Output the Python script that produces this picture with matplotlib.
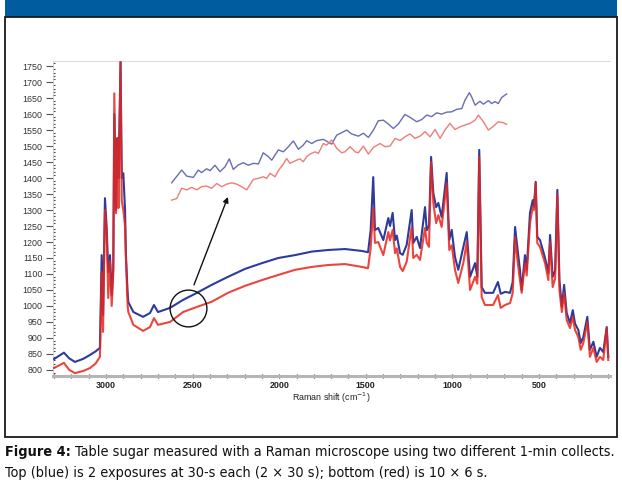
import os
import matplotlib
matplotlib.use('Agg')
import matplotlib.pyplot as plt
from matplotlib import font_manager as fm
from matplotlib.patches import Rectangle

# ---------------- data ----------------
wavenumber = [3300, 3243, 3212, 3179, 3130, 3092, 3060, 3035, 3025, 3017, 3006, 2996, 2987, 2977, 2967,
              2958, 2952, 2942, 2934, 2928, 2916, 2909, 2900, 2890, 2885, 2875, 2871, 2842, 2786, 2746,
              2723, 2700, 2630, 2555, 2475, 2390, 2296, 2197, 2099, 2005, 1909, 1812, 1718, 1620, 1522,
              1487, 1472, 1457, 1447, 1428, 1399, 1370, 1360, 1345, 1331, 1321, 1302, 1287, 1264, 1235,
              1226, 1206, 1187, 1158, 1148, 1135, 1123, 1110, 1094, 1081, 1062, 1033, 1018, 1004, 985,
              966, 937, 917, 898, 869, 856, 845, 831, 812, 765, 737, 721, 696, 667, 652,
              638, 628, 610, 600, 581, 571, 552, 536, 529, 519, 510, 494, 465, 446, 436,
              421, 407, 394, 382, 368, 355, 340, 321, 305, 292, 273, 259, 244, 221, 206,
              186, 167, 148, 129, 109, 100]
blue_2x30s = [834, 854, 836, 825, 835, 847, 858, 869, 1159, 972, 1337, 1244, 1106, 1159, 1034,
              1119, 1600, 1300, 1525, 1400, 1762, 1400, 1415, 1300, 1159, 1040, 1012, 981, 966, 978,
              1003, 981, 994, 1019, 1041, 1066, 1091, 1116, 1134, 1150, 1159, 1170, 1175, 1178, 1172,
              1168, 1237, 1403, 1237, 1244, 1206, 1275, 1250, 1291, 1206, 1220, 1165, 1160, 1191, 1300,
              1197, 1216, 1181, 1309, 1237, 1250, 1466, 1353, 1309, 1322, 1278, 1416, 1206, 1238, 1153,
              1113, 1184, 1231, 1091, 1134, 1091, 1488, 1059, 1041, 1041, 1075, 1038, 1044, 1041, 1075,
              1247, 1197, 1113, 1050, 1159, 1113, 1291, 1331, 1310, 1388, 1216, 1206, 1150, 1103, 1222,
              1091, 1110, 1363, 1081, 997, 1066, 978, 947, 987, 945, 925, 884, 903, 966, 863,
              888, 841, 869, 856, 934, 841]
red_10x6s = [806, 822, 800, 790, 797, 806, 820, 841, 1106, 919, 1300, 1230, 1025, 1140, 1000,
             1100, 1665, 1290, 1525, 1306, 1765, 1330, 1300, 1250, 1150, 1000, 981, 941, 922, 934,
             962, 941, 950, 981, 997, 1013, 1041, 1063, 1081, 1097, 1113, 1122, 1128, 1131, 1122,
             1118, 1180, 1306, 1197, 1200, 1159, 1231, 1205, 1238, 1165, 1180, 1122, 1109, 1138, 1247,
             1150, 1160, 1144, 1244, 1197, 1185, 1450, 1322, 1259, 1284, 1247, 1384, 1175, 1190, 1113,
             1072, 1134, 1200, 1050, 1091, 1070, 1466, 1028, 1003, 1003, 1034, 994, 1003, 1009, 1040,
             1216, 1160, 1081, 1041, 1134, 1095, 1259, 1309, 1300, 1384, 1197, 1184, 1134, 1081, 1200,
             1059, 1085, 1347, 1050, 981, 1041, 956, 931, 966, 925, 903, 863, 884, 950, 841,
             869, 825, 841, 831, 931, 831]

# magnified view of the circled region, as drawn on the chart
inset_blue_x = [2621, 2563, 2534, 2496, 2467, 2448, 2419, 2399, 2371, 2342, 2313, 2288, 2265, 2236, 2207,
                2178, 2149, 2120, 2092, 2063, 2043, 2005, 1976, 1947, 1918, 1889, 1861, 1841, 1812, 1784,
                1745, 1697, 1668, 1639, 1610, 1582, 1543, 1514, 1485, 1456, 1428, 1399, 1370, 1341, 1312,
                1274, 1245, 1206, 1177, 1148, 1120, 1091, 1062, 1033, 1004, 975, 946, 927, 902, 889,
                869, 841, 821, 792, 773, 754, 735, 715, 687]
inset_blue_y = [1385, 1425, 1406, 1402, 1425, 1417, 1429, 1423, 1440, 1420, 1435, 1460, 1427, 1441, 1448,
                1440, 1446, 1444, 1479, 1467, 1456, 1488, 1482, 1498, 1516, 1490, 1503, 1517, 1508, 1517,
                1521, 1506, 1534, 1542, 1550, 1538, 1531, 1540, 1527, 1550, 1579, 1581, 1569, 1555, 1569,
                1599, 1590, 1576, 1583, 1597, 1592, 1604, 1600, 1606, 1607, 1615, 1617, 1644, 1667, 1654,
                1628, 1640, 1631, 1642, 1633, 1639, 1633, 1652, 1663]
inset_red_x = [2621, 2592, 2563, 2534, 2505, 2476, 2448, 2419, 2390, 2361, 2332, 2303, 2274, 2245, 2217,
               2188, 2149, 2120, 2092, 2072, 2053, 2024, 2005, 1976, 1957, 1938, 1918, 1899, 1880, 1861,
               1841, 1822, 1793, 1774, 1745, 1726, 1697, 1668, 1639, 1620, 1591, 1562, 1543, 1514, 1485,
               1456, 1418, 1389, 1360, 1331, 1302, 1274, 1245, 1216, 1187, 1158, 1129, 1100, 1071, 1043,
               1014, 985, 956, 927, 898, 869, 850, 821, 792, 763, 735, 706, 687]
inset_red_y = [1331, 1336, 1368, 1363, 1371, 1363, 1373, 1375, 1368, 1383, 1373, 1381, 1385, 1381, 1373,
               1363, 1396, 1399, 1404, 1399, 1415, 1404, 1423, 1444, 1461, 1446, 1451, 1456, 1460, 1451,
               1467, 1475, 1482, 1477, 1508, 1503, 1519, 1493, 1479, 1482, 1498, 1482, 1479, 1500, 1475,
               1496, 1508, 1498, 1500, 1524, 1517, 1529, 1538, 1524, 1531, 1545, 1529, 1552, 1524, 1550,
               1571, 1552, 1560, 1566, 1571, 1581, 1597, 1576, 1550, 1562, 1576, 1573, 1568]

circle_center = (2527, 995)
arrow_tail = (2492, 1066)
arrow_head = (2296, 1341)

y_ticks = list(range(800, 1751, 50))
x_ticks = [3000, 2500, 2000, 1500, 1000, 500]
x_label = 'Raman shift (cm$^{-1}$)'
caption_bold = 'Figure 4:'
caption_line1 = 'Table sugar measured with a Raman microscope using two different 1-min collects.'
caption_line2 = 'Top (blue) is 2 exposures at 30-s each (2 \u00d7 30 s); bottom (red) is 10 \u00d7 6 s.'

# ---------------- figure ----------------
W, H = 622, 494
fig = plt.figure(figsize=(W / 100, H / 100), dpi=100)
fig.patch.set_facecolor('white')


def fx(px):
    return px / W


def fy(py):
    return 1 - py / H


# header bar and frame
fig.patches.append(Rectangle((fx(5), fy(17)), fx(612), 17 / H, transform=fig.transFigure,
                             facecolor='#005c9f', edgecolor='none', zorder=0))
fig.patches.append(Rectangle((fx(5), fy(437)), fx(612), 420 / H, transform=fig.transFigure,
                             facecolor='none', edgecolor='#1a1a1a', lw=1.3, zorder=0))

tick_font = 'Liberation Sans'
ax = fig.add_axes([fx(53), fy(376), 557 / W, 315 / H])
ax.set_xlim(3306, 90)
ax.set_ylim(781, 1766)

ax.plot(wavenumber, blue_2x30s, color='#2d3c9c', lw=1.5, zorder=3, solid_joinstyle='round')
ax.plot(wavenumber, red_10x6s, color='#e8251c', lw=1.5, alpha=0.85, zorder=4, solid_joinstyle='round')
ax.plot(inset_blue_x, inset_blue_y, color='#6a6cb4', lw=1.0, zorder=3)
ax.plot(inset_red_x, inset_red_y, color='#ee7d78', lw=1.0, zorder=3)

ax.plot([circle_center[0]], [circle_center[1]], marker='o', ms=26.5, mfc='none', mec='#111111',
        mew=1.0, zorder=5, clip_on=False)
ax.annotate('', xy=arrow_head, xytext=arrow_tail,
            arrowprops=dict(arrowstyle='-|>', color='#111111', lw=1.0, mutation_scale=8,
                            shrinkA=0, shrinkB=0), zorder=5)

# axes styling
ax.spines['right'].set_visible(False)
ax.spines['top'].set_color('#dcdcdc')
ax.spines['top'].set_linewidth(0.8)
ax.spines['left'].set_color('#c8c8c8')
ax.spines['left'].set_linewidth(0.6)
ax.spines['bottom'].set_color('#b5b5b5')
ax.spines['bottom'].set_linewidth(2.2)

ax.set_yticks(y_ticks)
ax.set_yticklabels([str(v) for v in y_ticks], fontsize=6.4, color='#333333', fontfamily=tick_font)
ax.set_yticks(list(range(790, 1766, 10)), minor=True)
ax.tick_params(axis='y', which='major', direction='out', length=5, width=0.8, color='#555555', pad=2.5)
ax.tick_params(axis='y', which='minor', direction='in', length=1.6, width=0.8, color='#444444')

ax.set_xticks(x_ticks)
ax.set_xticklabels([str(v) for v in x_ticks], fontsize=6.4, color='#222222', fontfamily=tick_font,
                   fontweight='bold')
ax.set_xticks(list(range(3300, 99, -100)), minor=True)
ax.tick_params(axis='x', which='both', direction='inout', length=2.5, width=0.9, color='#333333', pad=2)
ax.set_xlabel(x_label, fontsize=6.4, color='#222222', fontfamily=tick_font, labelpad=0.5)


# ---------------- caption (condensed face if one is installed) ----------------
def pick_condensed():
    bad = ('extra', 'semi', 'ultra', 'italic', 'oblique', 'mono', 'light', 'thin', 'medium',
           'black', 'serif', 'demi', 'heavy')
    groups = {}
    for f in fm.fontManager.ttflist:
        base = os.path.basename(f.fname).lower()
        if 'sans' not in base or not ('narrow' in base or 'condensed' in base):
            continue
        if any(b in base for b in bad):
            continue
        kind = 'bold' if 'bold' in base else 'regular'
        groups.setdefault(f.name, {})[kind] = f.fname
    order = ['liberation', 'noto', 'dejavu', 'open', 'roboto']
    best = None
    for pref in order:
        for name, d in groups.items():
            if pref in name.lower() and 'regular' in d and 'bold' in d:
                return d
    for name, d in groups.items():
        if 'regular' in d and 'bold' in d:
            return d
    return best


faces = pick_condensed()
if faces:
    fp_reg = fm.FontProperties(fname=faces['regular'])
    fp_bold = fm.FontProperties(fname=faces['bold'])
else:
    fp_reg = fm.FontProperties(family='Liberation Sans')
    fp_bold = fm.FontProperties(family='Liberation Sans', weight='bold')

fs = 11
t_b = fig.text(fx(5), fy(456), caption_bold, fontproperties=fp_bold, color='#111111',
               va='baseline', ha='left')
t_1 = fig.text(fx(5), fy(456), caption_line1, fontproperties=fp_reg, color='#111111',
               va='baseline', ha='left')
t_2 = fig.text(fx(5), fy(477), caption_line2, fontproperties=fp_reg, color='#111111',
               va='baseline', ha='left')
for t in (t_b, t_1, t_2):
    t.set_fontsize(fs)
r = fig.canvas.get_renderer()
gap = 4
wb = t_b.get_window_extent(r).width
w1 = t_1.get_window_extent(r).width
scale = (611 - gap) / (wb + w1)
for t in (t_b, t_1, t_2):
    t.set_fontsize(fs * scale)
wb = t_b.get_window_extent(r).width
t_1.set_x(fx(5 + wb + gap))

fig.savefig('out.png', dpi=100, facecolor='white')
